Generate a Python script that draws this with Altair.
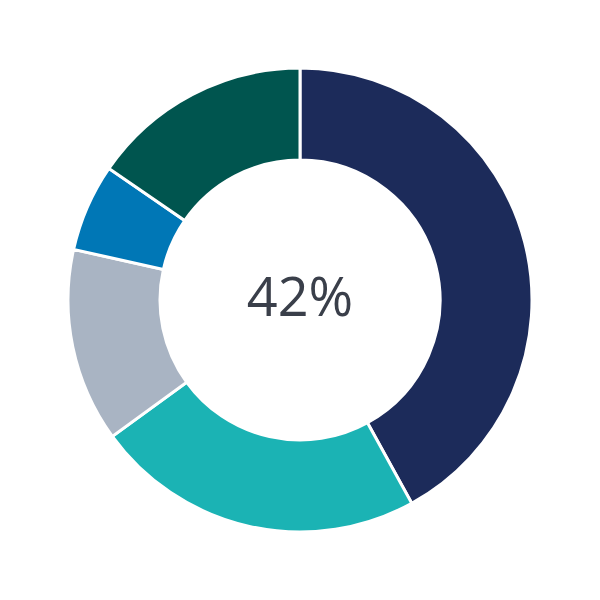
import pandas as pd
import altair as alt

segments = ['A', 'B', 'C', 'D', 'E']
shares = [42, 23, 13.5, 6.1, 15.4]
colors = ['#1c2b5a', '#1bb3b4', '#a9b4c3', '#0077b6', '#00554f']
center_label = '42%'

df = pd.DataFrame({'segment': segments, 'share': shares, 'rank': list(range(len(segments)))})

donut = alt.Chart(df).mark_arc(
    outerRadius=232, innerRadius=140, stroke='white', strokeWidth=3
).encode(
    theta=alt.Theta('share:Q', stack=True),
    order=alt.Order('rank:Q'),
    color=alt.Color('segment:N', scale=alt.Scale(domain=segments, range=colors), legend=None)
)

label = alt.Chart(pd.DataFrame({'t': [center_label]})).mark_text(
    fontSize=54, font='Open Sans', color='#3a3f4a', baseline='middle', align='center'
).encode(text='t:N')

chart = alt.layer(donut, label).properties(
    width=584, height=584, autosize=alt.AutoSizeParams(type='none'), padding=0
).configure_view(stroke=None)

chart.save("out.html", embed_options={"renderer": "svg", "actions": False})
